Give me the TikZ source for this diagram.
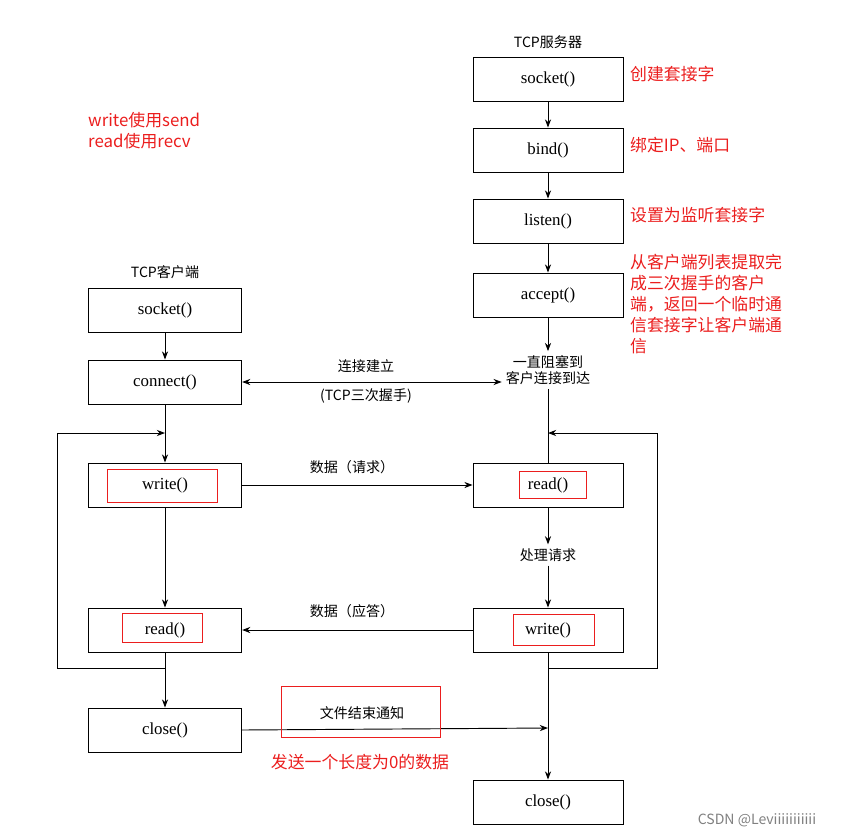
\documentclass[tikz,border=0pt]{standalone}
\usepackage{fontspec}
\setmainfont{Liberation Serif}
\newfontfamily\cjk{Noto Sans CJK SC}
\usetikzlibrary{arrows.meta}
\definecolor{Cred}{RGB}{235,30,30}

\tikzset{
    box/.style={draw, thick, minimum width=4.5cm, minimum height=1.32cm, font=\Large},
    redmark/.style={draw=Cred, thick, minimum height=1.0cm},
    note/.style={text=Cred, font=\cjk\Large, anchor=west, align=left, inner sep=0pt},
    link/.style={-{Stealth[length=7pt]}, thick}
}

\begin{document}
\begin{tikzpicture}[x=0.03cm, y=-0.03cm]
    \useasboundingbox (0, 0) rectangle (846, 836);

    % server column
    \node at (548, 42) {\cjk\large TCP服务器};
    \foreach \name/\y/\txt in {ssocket/79/socket(),
                                sbind/150/bind(),
                                slisten/221/listen(),
                                saccept/295/accept(),
                                sread/485/read(),
                                swrite/630/write(),
                                sclose/802/close()}{
        \node[box] (\name) at (548, \y) {\txt};
    }
    \node[font=\cjk\large, align=center] (wait) at (548, 370) {一直阻塞到\\客户连接到达};
    \node[font=\cjk\large] (proc) at (548, 555) {处理请求};

    % client column
    \node at (165, 272) {\cjk\large TCP客户端};
    \foreach \name/\y/\txt in {csocket/310/socket(),
                                cconnect/382/connect(),
                                cwrite/485/write(),
                                cread/630/read(),
                                cclose/730/close()}{
        \node[box, minimum width=4.6cm] (\name) at (165, \y) {\txt};
    }

    % vertical flow
    \draw[link] (ssocket) -- (sbind);
    \draw[link] (sbind) -- (slisten);
    \draw[link] (slisten) -- (saccept);
    \draw[link] (saccept) -- (wait);
    \draw[link] (sread) -- (proc);
    \draw[link] (proc) -- (swrite);
    \draw[link] (swrite) -- (sclose);
    \draw[link] (csocket) -- (cconnect);
    \draw[link] (cconnect) -- (cwrite);
    \draw[link] (cwrite) -- (cread);
    \draw[link] (cread) -- (cclose);

    % loops
    \coordinate (ctop) at (165, 433);
    \coordinate (cbot) at (165, 668);
    \coordinate (stop) at (548, 433);
    \coordinate (sbot) at (548, 668);
    \coordinate (fin) at (548, 728);
    \draw[link] (cbot) -- (57, 668) -- (57, 433) -- (ctop);
    \draw[link] (sbot) -- (657, 668) -- (657, 433) -- (stop);
    \draw[thick] (wait) -- (sread);

    % messages
    \draw[{Stealth[length=7pt]}-{Stealth[length=7pt]}, thick] (cconnect) -- (wait.west |- cconnect);
    \node[font=\cjk\large] at (366, 366) {连接建立};
    \node[font=\cjk\large] at (366, 396) {(TCP三次握手)};
    \draw[link] (cwrite) -- (sread);
    \node[font=\cjk\large] at (352, 467) {数据（请求）};
    \draw[link] (swrite) -- (cread);
    \node[font=\cjk\large] at (352, 611) {数据（应答）};
    \draw[link] (cclose.east) -- (fin);
    \node[font=\cjk\large] (eof) at (362, 713) {文件结束通知};

    % red marks
    \node[redmark, minimum width=3.3cm] at (162, 486) {};
    \node[redmark, minimum width=2.4cm, minimum height=0.85cm] at (162, 628) {};
    \node[redmark, minimum width=2.0cm, minimum height=0.8cm] at (553, 485) {};
    \node[redmark, minimum width=2.45cm, minimum height=0.95cm] at (554, 630) {};
    \node[redmark, minimum width=4.75cm, minimum height=1.55cm] at (361, 712) {};

    % notes
    \node[note] at (630, 74) {创建套接字};
    \node[note] at (630, 145) {绑定IP、端口};
    \node[note] at (630, 215) {设置为监听套接字};
    \node[note, anchor=north west] at (630, 254) {从客户端列表提取完\\成三次握手的客户\\端，返回一个临时通\\信套接字让客户端通\\信};
    \node[note, anchor=north west] at (88, 112) {write使用send\\read使用recv};
    \node[note, anchor=center] at (360, 762) {发送一个长度为0的数据};
    \node[text=gray, font=\cjk\large] at (757, 820) {CSDN @Leviiiiiiiiiii};
\end{tikzpicture}
\end{document}
